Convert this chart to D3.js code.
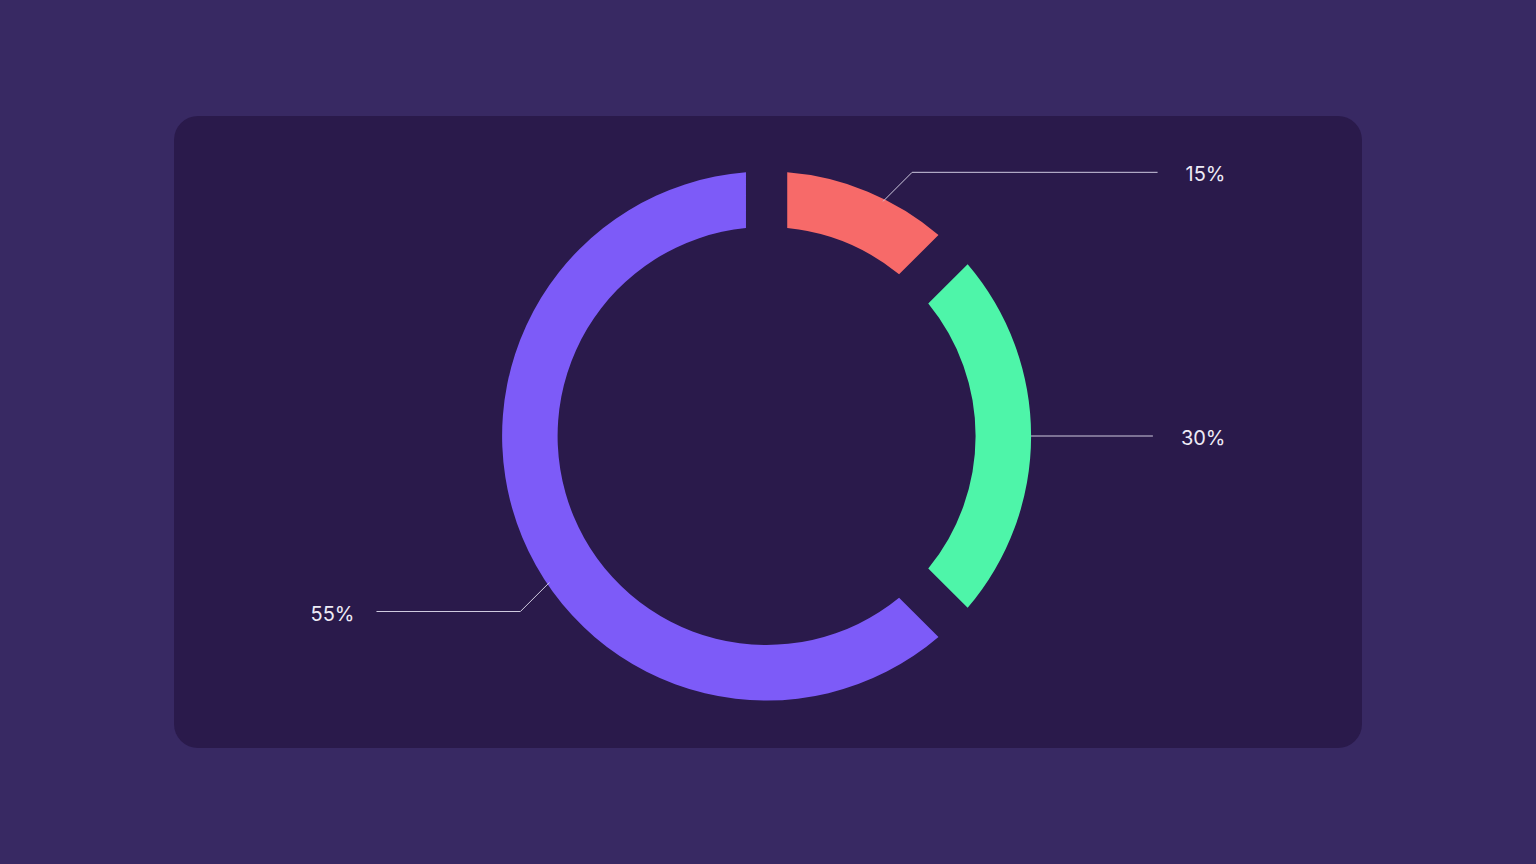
<!DOCTYPE html>
<html>
<head>
<meta charset="utf-8">
<script src="https://cdn.jsdelivr.net/npm/d3@7"></script>
<style>
  html, body { margin: 0; padding: 0; background: #382963; }
  svg { display: block; }
  .pct { font: 400 20px Inter, "Noto Sans", sans-serif; fill: #eeebf6; }
</style>
</head>
<body>
<script>
// slice shares as drawn (arc sweep) + the printed labels
var categories = ["A", "B", "C"];
var shares = [12.5, 25, 62.5];
var labels = ["15%", "30%", "55%"];
var colors = ["#f76a69", "#4ef5a9", "#7d5bf8"];

// where each leader line leaves the ring (degrees, clockwise from 12 o'clock)
var leaderAngle = [26.4, 90, 236];
var leaderSide = [1, 1, -1];

var W = 1536, H = 864;
var cx = 766.6, cy = 436, rOuter = 264.5, rInner = 209;

var svg = d3.select("body").append("svg")
    .attr("width", W)
    .attr("height", H);

// card
svg.append("rect")
    .attr("x", 174).attr("y", 116)
    .attr("width", 1188).attr("height", 632)
    .attr("rx", 24).attr("ry", 24)
    .attr("fill", "#2a1a4b");

var g = svg.append("g").attr("transform", "translate(" + cx + "," + cy + ")");

var pie = d3.pie().sort(null).value(function(d) { return d; });
var arcs = pie(shares);

var arc = d3.arc()
    .innerRadius(rInner)
    .outerRadius(rOuter)
    .padRadius(rOuter)
    .padAngle(41.3 / rOuter);

g.selectAll("path.slice")
    .data(arcs)
  .enter().append("path")
    .attr("class", "slice")
    .attr("d", arc)
    .attr("fill", function(d, i) { return colors[i]; });

// leader lines + labels
var rad = d3.scaleLinear().domain([0, 360]).range([0, 2 * Math.PI]);

categories.forEach(function(c, i) {
  var a = rad(leaderAngle[i]);
  var r0 = i == 1 ? rOuter : rOuter - 2.5;
  var x0 = r0 * Math.sin(a), y0 = -r0 * Math.cos(a);
  var side = leaderSide[i];
  var pts = [[x0, y0]];
  if (i != 1) {
    // 45 degree kink up/down then horizontal
    var dy = (y0 < 0 ? -1 : 1) * 29;
    pts.push([x0 + side * 29, y0 + dy]);
  }
  var yl = pts[pts.length - 1][1];

  var t = g.append("text")
      .attr("class", "pct")
      .attr("y", yl + 9)
      .attr("text-anchor", side > 0 ? "end" : "start")
      .attr("x", side > 0 ? 1225.5 - cx : 310.5 - cx)
      .text(labels[i]);

  var tw = t.node().getComputedTextLength();
  var xEnd = side > 0 ? (1225.5 - cx) - tw - 28 : (310.5 - cx) + tw + 22;
  pts.push([xEnd, yl]);

  g.append("path")
      .attr("d", d3.line()(pts))
      .attr("fill", "none")
      .attr("stroke", "#cfcadf")
      .attr("stroke-width", 1);
});
</script>
</body>
</html>
